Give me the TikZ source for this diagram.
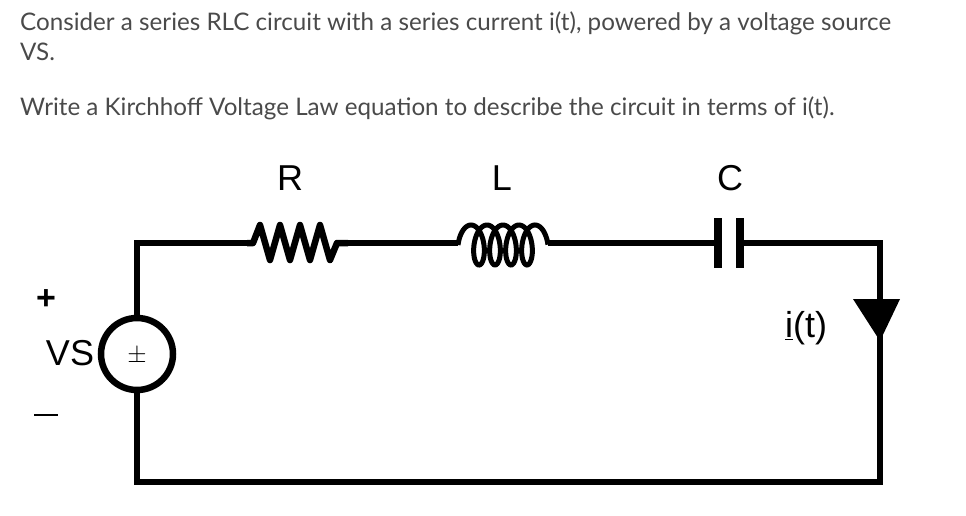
\documentclass[tikz,border=0pt]{standalone}
\usepackage{fontspec}
\setmainfont{Liberation Sans}
\newfontfamily\latofont{Lato}
\definecolor{txt}{HTML}{4A4A4A}
\begin{document}
\begin{tikzpicture}[x=1pt,y=-1pt,
  wire/.style={line width=6.5pt,line join=miter},
  lbl/.style={font=\fontsize{36}{36}\selectfont,inner sep=0pt},
  para/.style={font=\latofont\fontsize{24.2}{28}\selectfont,text=txt,anchor=west,inner sep=0pt}]
\useasboundingbox (0,0) rectangle (966,516);
\node[para] (p1) at (20,23) {Consider a series RLC circuit with a series current i(t), powered by a voltage source};
\node[para] (p2) at (20,52) {VS.};
\node[para] (p3) at (20,108) {Write a Kirchhoff Voltage Law equation to describe the circuit in terms of i(t).};
% nodes
\node[circle,draw,line width=6.5pt,minimum size=72pt,inner sep=0pt] (vs) at (137,354) {};
\node[font=\fontsize{34}{34}\selectfont] (pm) at (137,356) {$\pm$};
\coordinate (tl) at (137,243);
\coordinate (tr) at (880,243);
\coordinate (bl) at (137,482);
\coordinate (br) at (880,482);
\coordinate (r1) at (247,243);
\coordinate (r2) at (348,243);
\coordinate (l1) at (458,243);
\coordinate (l2) at (548,243);
\coordinate (c1) at (718,243);
\coordinate (c2) at (740,243);
% wires
\draw[wire] (vs.north) -- (tl) -- (r1);
\draw[wire,line join=round] (r1) -- ++(6,0) -- ++(7,-18) -- ++(10,35) -- ++(10,-35) -- ++(10,35) -- ++(10,-35) -- ++(10,35) -- ++(10,-35) -- ++(10,35) -- ++(7,-17) -- (r2);
\draw[wire] (r2) -- (l1);
\draw[line width=5pt] plot[domain=-0.25:4.25,samples=200,smooth] ({471+16*\x+9*sin(360*\x)},{245-20*cos(360*\x)});
\draw[wire] (l2) -- (c1);
\draw[line width=7.5pt] (c1|-0,218) -- (c1|-0,268);
\draw[line width=7.5pt] (c2|-0,218) -- (c2|-0,268);
\draw[wire] (c2) -- (tr) -- (br) -- (bl) -- (vs.south);
\fill (853,299) -- (900,299) -- (880,341) -- cycle;
% labels
\node[lbl] (lr) at (290,178) {R};
\node[lbl] (ll) at (502,178) {L};
\node[lbl] (lc) at (730,178) {C};
\node[lbl] (li) at (806,328) {\underline{i}(t)};
\node[lbl] (lvs) at (70,353) {VS};
\node[font=\bfseries\fontsize{34}{34}\selectfont] (plus) at (46,300) {+};
\draw[line width=2.5pt] (34,415) -- (58,415);
\end{tikzpicture}
\end{document}
